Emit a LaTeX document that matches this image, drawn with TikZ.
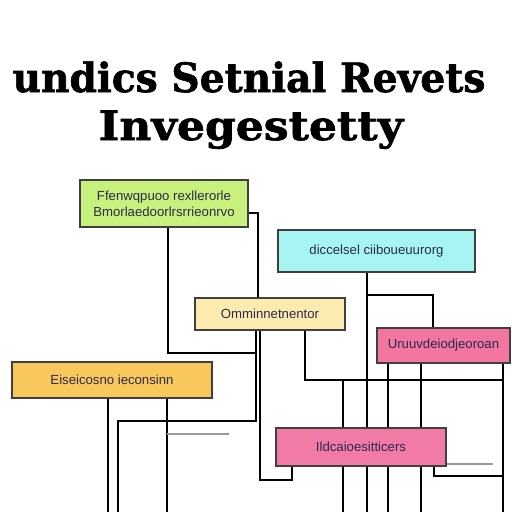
\documentclass[tikz,border=0pt]{standalone}
\usepackage{fontspec}
\setmainfont{Liberation Sans}
\newfontfamily\headfont{DejaVu Serif}[FakeBold=1.5]
\usetikzlibrary{backgrounds}

\definecolor{limefill}{HTML}{C8F07C}
\definecolor{aquafill}{HTML}{A6F5F2}
\definecolor{creamfill}{HTML}{FCEBAE}
\definecolor{blushfill}{HTML}{F2769F}
\definecolor{amberfill}{HTML}{F9C85C}
\definecolor{rosefill}{HTML}{F27AA6}
\definecolor{boxtext}{HTML}{2B2B4B}

\begin{document}
\begin{tikzpicture}[
    x=0.02cm, y=-0.02cm,
    box/.style={rectangle, draw=black!75, line width=0.6pt, text=boxtext, font=\fontsize{7.5}{9}\selectfont, align=center, inner sep=1pt},
    head/.style={font=\headfont\bfseries\fontsize{23}{26}\selectfont, anchor=base, inner sep=0pt},
    link/.style={draw=black, line width=0.8pt},
    faint/.style={draw=black!40, line width=0.6pt}
  ]
    \useasboundingbox (0,0) rectangle (512,512);

    \node[head] (title) at (249,92) {\scalebox{0.97}[1]{undics Setnial Revets}};
    \node[head] (subtitle) at (251,140) {\scalebox{1.09}[1]{Invegestetty}};

    \node[box, fill=limefill, minimum width=3.36cm, minimum height=0.94cm] (lime) at (164,203.5) {Ffenwqpuoo rexllerorle\\Bmorlaedoorlrsrrieonrvo};
    \node[box, fill=aquafill, minimum width=3.94cm, minimum height=0.84cm] (aqua) at (376.5,251) {diccelsel ciiboueuurorg};
    \node[box, fill=creamfill, minimum width=3cm, minimum height=0.64cm] (cream) at (270,314) {Omminnetnentor};
    \node[box, fill=blushfill, minimum width=2.66cm, minimum height=0.7cm] (blush) at (443.5,345.5) {Uruuvdeiodjeoroan};
    \node[box, fill=amberfill, minimum width=4cm, minimum height=0.72cm] (amber) at (112,380) {Eiseicosno ieconsinn};
    \node[box, fill=rosefill, minimum width=3.4cm, minimum height=0.76cm] (rose) at (361,447) {Ildcaioesitticers};

    % bends and loose ends of the lines
    \coordinate (gbend) at (168,353);
    \coordinate (gend) at (256,353);
    \coordinate (gright) at (258,213);
    \coordinate (ydrop) at (256,421);
    \coordinate (yleft) at (118,421);
    \coordinate (yfoot) at (118,512);
    \coordinate (ybend) at (260,480);
    \coordinate (yhook) at (292,480);
    \coordinate (ymid) at (305,380);
    \coordinate (yrun) at (503,380);
    \coordinate (cfork) at (367,295);
    \coordinate (cturn) at (433,295);
    \coordinate (cfoot) at (367,512);
    \coordinate (rfoot) at (503,512);
    \coordinate (pfoot) at (343,512);
    \coordinate (qfoot) at (388,512);
    \coordinate (sfoot) at (421,512);
    \coordinate (rhook) at (434,476);
    \coordinate (rend) at (503,476);
    \coordinate (rtick) at (493,464);
    \coordinate (afoot) at (108,512);
    \coordinate (bfoot) at (167,512);
    \coordinate (atick) at (229,434);

    \begin{scope}[on background layer]
    \draw[link] (lime.south -| gbend) -- (gbend) -- (gend);
    \draw[link] (lime.east |- gright) -- (gright) -- (gright |- cream.north);
    \draw[link] (cream.south -| ydrop) -- (ydrop) -- (yleft) -- (yfoot);
    \draw[link] (cream.south -| ybend) -- (ybend) -- (yhook) -- (yhook |- rose.south);
    \draw[link] (cream.south -| ymid) -- (ymid) -- (yrun);
    \draw[link] (aqua.south -| cfork) -- (cfoot);
    \draw[link] (cfork) -- (cturn) -- (cturn |- blush.north);
    \draw[link] (blush.south -| rfoot) -- (rfoot);
    \draw[link] (blush.south -| qfoot) -- (qfoot);
    \draw[link] (blush.south -| sfoot) -- (sfoot);
    \draw[link] (yrun -| pfoot) -- (pfoot);
    \draw[link] (rose.south -| rhook) -- (rhook) -- (rend);
    \draw[faint] (rose.east |- rtick) -- (rtick);
    \draw[link] (amber.south -| afoot) -- (afoot);
    \draw[link] (amber.south -| bfoot) -- (bfoot);
    \draw[faint] (bfoot |- atick) -- (atick);
    \end{scope}
\end{tikzpicture}
\end{document}
